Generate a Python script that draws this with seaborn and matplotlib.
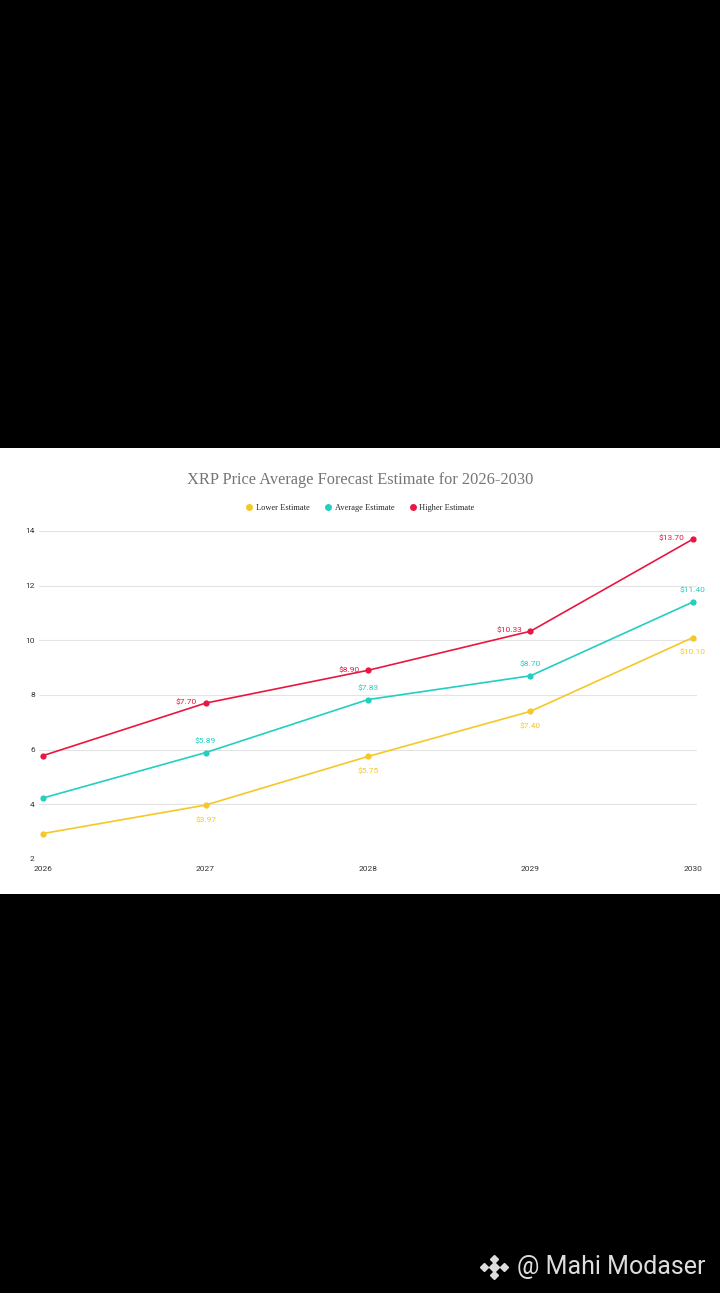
import numpy as np
import pandas as pd
import matplotlib
matplotlib.use('Agg')
import matplotlib.pyplot as plt
from matplotlib.lines import Line2D
from matplotlib.patches import Rectangle
import seaborn as sns

# data
years = [2026, 2027, 2028, 2029, 2030]
lower = [2.93, 3.97, 5.75, 7.40, 10.10]
average = [4.23, 5.89, 7.83, 8.70, 11.40]
higher = [5.78, 7.70, 8.90, 10.33, 13.70]
series_names = ['Lower Estimate', 'Average Estimate', 'Higher Estimate']
colors = ['#f5c828', '#22cfc0', '#e9173f']
y_ticks = [2, 4, 6, 8, 10, 12, 14]
title = 'XRP Price Average Forecast Estimate for 2026-2030'

df = pd.DataFrame({
    'year': years * 3,
    'value': lower + average + higher,
    'series': [s for s in series_names for _ in years],
})

sns.set_theme(style='white')
plt.rcParams['font.family'] = ['Roboto', 'DejaVu Sans']

fig = plt.figure(figsize=(7.2, 12.93), dpi=100, facecolor='black')
# white card holding the chart
fig.patches.append(Rectangle((0, 0.3086), 1, 0.3449, transform=fig.transFigure,
                             facecolor='white', edgecolor='none', zorder=-1))

ax = fig.add_axes([0.0542, 0.3357, 0.9139, 0.2537])
ax.set_zorder(1)
ax.set_facecolor('white')
sns.lineplot(data=df, x='year', y='value', hue='series', palette=colors,
             marker='o', markersize=4.5, markeredgewidth=0, linewidth=1.2,
             legend=False, ax=ax, zorder=3)

ax.set_xlim(2025.975, 2030.025)
ax.set_ylim(2, 14)
ax.set_yticks(y_ticks)
ax.set_xticks(years)
ax.set_xticklabels([str(y) for y in years])
ax.grid(axis='y', color='#e3e3e3', linewidth=0.8)
ax.grid(axis='x', visible=False)
for s in ax.spines.values():
    s.set_visible(False)
ax.tick_params(axis='both', length=0, labelsize=6, labelcolor='#333333')
ax.tick_params(axis='y', pad=3)
ax.tick_params(axis='x', pad=5)
ax.set_xlabel('')
ax.set_ylabel('')

# value labels (first year is not labelled)
for x, v in zip(years[1:], higher[1:]):
    ax.annotate(f'${v:.2f}', (x, v), xytext=(-6, 0.5), textcoords='offset points',
                ha='right', va='center', fontsize=6, color=colors[2])
for x, v in zip(years[1:], average[1:]):
    ax.annotate(f'${v:.2f}', (x, v), xytext=(0, 6), textcoords='offset points',
                ha='center', va='bottom', fontsize=6, color=colors[1])
for x, v in zip(years[1:], lower[1:]):
    ax.annotate(f'${v:.2f}', (x, v), xytext=(0, -8.5), textcoords='offset points',
                ha='center', va='top', fontsize=6, color=colors[0])

fig.text(0.5, 0.6290, title, ha='center', va='center', fontsize=11.8,
         color='#757575', family='Liberation Serif')

handles = [Line2D([], [], linestyle='', marker='o', markersize=5,
                  markerfacecolor=c, markeredgewidth=0) for c in colors]
fig.legend(handles, series_names, loc='center', bbox_to_anchor=(0.5, 0.6075),
           ncol=3, frameon=False, prop={'family': 'Liberation Serif', 'size': 6},
           handletextpad=0.3, columnspacing=1.7, handlelength=1.0)

# watermark
fig.text(0.98, 0.0201, '@ Mahi Modaser', ha='right', va='center', fontsize=18,
         color='#dddddd', family='Roboto')
lx, ly = 0.686, 0.0201
for dx, dy, sz in [(0, 0, 5), (-0.014, 0, 4), (0.014, 0, 4), (0, 0.006, 4), (0, -0.006, 4)]:
    fig.lines.append(Line2D([lx + dx], [ly + dy], transform=fig.transFigure,
                            marker='D', markersize=sz, color='#dddddd', linestyle=''))

fig.savefig('out.png', dpi=100, facecolor='black')
